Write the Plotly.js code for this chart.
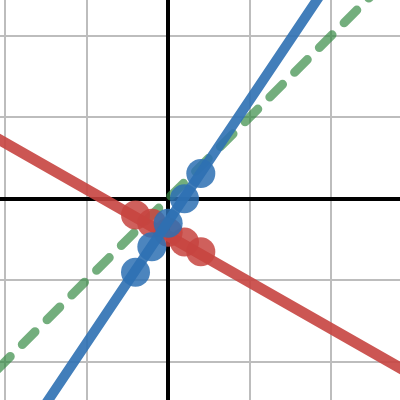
<!DOCTYPE html>
<html>
<head>
<meta charset="utf-8">
<script src="https://cdn.plot.ly/plotly-3.0.1.min.js"></script>
<style>
body{margin:0;padding:0;background:#fff}
#graph{width:400px;height:400px}
.js-line{stroke-linecap:round !important}
</style>
</head>
<body>
<div id="graph"></div>
<script>
// sample points
var xPts = [-0.4, -0.2, 0, 0.2, 0.4];
var blueY = [-0.9, -0.59, -0.3, 0.0, 0.31];
var redY = [-0.2, -0.3, -0.41, -0.53, -0.65];

// fitted lines, two ends each
var lineX = [-3, 3];
var blueLineY = [-4.75, 4.19];
var redLineY = [1.255, -2.165];
var greenLineY = [-3, 3];

var green = {x: lineX, y: greenLineY, mode: 'lines', type: 'scatter',
  line: {color: 'rgba(56,140,70,0.7)', width: 9, dash: '18px,17px'}, hoverinfo: 'skip'};
var redLine = {x: lineX, y: redLineY, mode: 'lines', type: 'scatter',
  line: {color: 'rgba(199,68,64,0.9)', width: 11}, hoverinfo: 'skip'};
var redPts = {x: xPts, y: redY, mode: 'markers', type: 'scatter',
  marker: {color: 'rgba(199,68,64,0.85)', size: 29}};
var bluePts = {x: xPts, y: blueY, mode: 'markers', type: 'scatter',
  marker: {color: 'rgba(45,112,179,0.85)', size: 29}};
var blueLine = {x: lineX, y: blueLineY, mode: 'lines', type: 'scatter',
  line: {color: 'rgba(45,112,179,0.9)', width: 10}, hoverinfo: 'skip'};

var ax = {
  dtick: 1, tick0: 0, showticklabels: false, ticks: '',
  showgrid: true, gridcolor: '#bdbdbd', gridwidth: 2,
  zeroline: true, zerolinecolor: '#000', zerolinewidth: 4,
  showline: false, fixedrange: true
};

var layout = {
  width: 400, height: 400,
  margin: {l: 0, r: 0, t: 0, b: 0, pad: 0},
  paper_bgcolor: '#fff', plot_bgcolor: '#fff',
  showlegend: false,
  xaxis: Object.assign({range: [-2.06, 2.84]}, ax),
  yaxis: Object.assign({range: [-2.467, 2.435]}, ax)
};

Plotly.newPlot('graph', [green, redLine, redPts, bluePts, blueLine], layout, {staticPlot: true});
</script>
</body>
</html>
